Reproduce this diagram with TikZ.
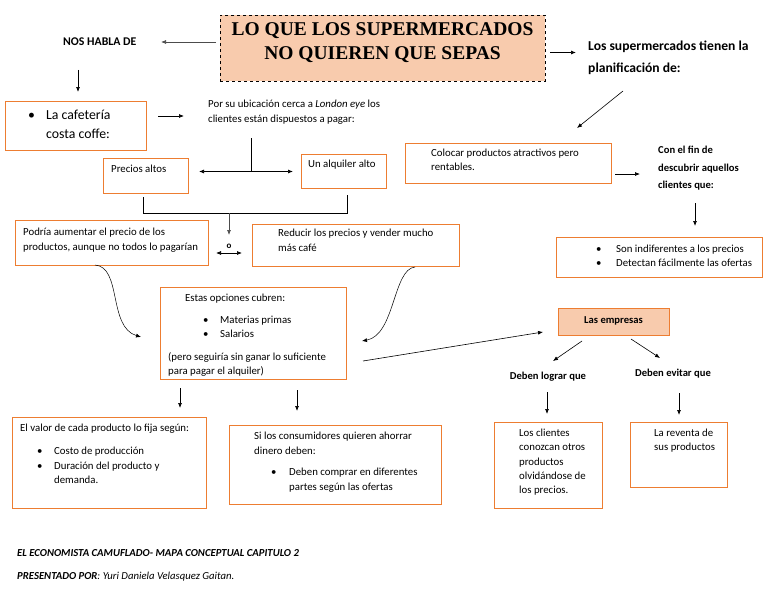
\documentclass[tikz,border=0pt]{standalone}
\usepackage{fontspec}
\setmainfont{Carlito}
\newfontfamily\titlefont{Liberation Serif}
\usetikzlibrary{arrows.meta}
\definecolor{boxorange}{HTML}{ED7D31}
\definecolor{peach}{HTML}{F8CBAD}
\newcommand\tl[1]{\begin{tabular}[t]{@{}l@{}}#1\end{tabular}}
\newcommand\fsm{\fontsize{10.8}{15}\selectfont}
\tikzset{
  obox/.style 2 args={draw=boxorange, line width=0.9pt, anchor=north west, inner sep=0pt, minimum width=#1, minimum height=#2},
  txt/.style={anchor=base west, inner sep=0pt, font=\fsm},
  arr/.style={-{Latex[length=5pt,width=4pt]}, line width=0.7pt},
  ln/.style={line width=0.8pt},
}
\begin{document}
\begin{tikzpicture}[x=1pt,y=-1pt]
\useasboundingbox (0,0) rectangle (768,594);
% ---------- boxes
\node[obox={325pt}{66pt}, draw=black, line width=0.8pt, dashed, fill=peach] (title) at (220,15) {};
\node[obox={141pt}{49pt}] (cafe) at (5,101) {};
\node[obox={85pt}{35pt}] (precios) at (103,158) {};
\node[obox={85pt}{34pt}] (alquiler) at (301,154) {};
\node[obox={206pt}{40pt}] (colocar) at (405,143) {};
\node[obox={193pt}{45pt}] (podria) at (15,220) {};
\node[obox={207pt}{42pt}] (reducir) at (252,224) {};
\node[obox={186pt}{92pt}] (estas) at (160,287) {};
\node[obox={206pt}{40pt}] (indif) at (556,237) {};
\node[obox={111pt}{27pt}, fill=peach] (empresas) at (558,308) {};
\node[obox={194pt}{91pt}] (valor) at (12,417) {};
\node[obox={212pt}{79pt}] (silos) at (229,425) {};
\node[obox={108pt}{86pt}] (losclientes) at (494,422) {};
\node[obox={97pt}{65pt}] (reventa) at (630,422) {};
% ---------- texts
\node[anchor=center, align=center, inner sep=0pt, font=\titlefont\bfseries\fontsize{19.5}{24}\selectfont] (titletxt) at (382.5,43) {LO QUE LOS SUPERMERCADOS\\NO QUIEREN QUE SEPAS};
\node[txt, font=\bfseries\fontsize{11.8}{13}\selectfont] (nos) at (63,46) {NOS HABLA DE};
\node[txt, font=\bfseries\fontsize{13.6}{21}\selectfont] (super) at (588,51) {\tl{Los supermercados tienen la\\planificación de:}};
\node[txt, font=\fontsize{13.8}{19}\selectfont] (cafebul) at (28,119) {\textbullet};
\node[txt, font=\fontsize{13.8}{19}\selectfont] (cafetxt) at (46,119) {\tl{La cafetería\\costa coffe:}};
\node[txt] (porsu) at (208,107.5) {\tl{Por su ubicación cerca a \textit{London eye} los\\clientes están dispuestos a pagar:}};
\node[txt] (preciostxt) at (111,172) {Precios altos};
\node[txt] (alquilertxt) at (308,167.5) {Un alquiler alto};
\node[txt, font=\fontsize{10.8}{14}\selectfont] (colocartxt) at (431,156.5) {\tl{Colocar productos atractivos pero\\rentables.}};
\node[txt, font=\bfseries\fontsize{10.6}{17.5}\selectfont] (confin) at (658,153.5) {\tl{Con el fin de\\descubrir aquellos\\clientes que:}};
\node[txt] (podriatxt) at (23,235.5) {\tl{Podría aumentar el precio de los\\productos, aunque no todos lo pagarían}};
\node[txt] (reducirtxt) at (278,236.5) {\tl{Reducir los precios y vender mucho\\más café}};
\node[anchor=center, inner sep=0pt, font=\bfseries\fontsize{9}{10}\selectfont] (o) at (229,246) {o};
\node[txt, font=\fontsize{10.8}{14}\selectfont] (indifb) at (596,252.5) {\tl{\textbullet\\\textbullet}};
\node[txt, font=\fontsize{10.8}{14}\selectfont] (indiftxt) at (616,252.5) {\tl{Son indiferentes a los precios\\Detectan fácilmente las ofertas}};
\node[txt] (estastxt) at (185,301.5) {Estas opciones cubren:};
\node[txt, font=\fontsize{10.8}{14}\selectfont] (estasb) at (203,323.5) {\tl{\textbullet\\\textbullet}};
\node[txt, font=\fontsize{10.8}{14}\selectfont] (estasl) at (220,323.5) {\tl{Materias primas\\Salarios}};
\node[txt, font=\fontsize{10.8}{14}\selectfont] (pero) at (168,360.5) {\tl{(pero seguiría sin ganar lo suficiente\\para pagar el alquiler)}};
\node[anchor=center, inner sep=0pt, font=\bfseries\fontsize{10.6}{12}\selectfont] (emptxt) at (613.5,321) {Las empresas};
\node[anchor=center, inner sep=0pt, font=\bfseries\fontsize{10.6}{12}\selectfont] (lograr) at (548,377) {Deben lograr que};
\node[anchor=center, inner sep=0pt, font=\bfseries\fontsize{10.6}{12}\selectfont] (evitar) at (673,374) {Deben evitar que};
\node[txt, font=\fontsize{10.8}{14.25}\selectfont] (lcltxt) at (519,436.5) {\tl{Los clientes\\conozcan otros\\productos\\olvidándose de\\los precios.}};
\node[txt, font=\fontsize{10.8}{14}\selectfont] (reventatxt) at (654,436) {\tl{La reventa de\\sus productos}};
\node[txt] (valortxt) at (20,431.5) {El valor de cada producto lo fija según:};
\node[txt, font=\fontsize{10.8}{14.5}\selectfont] (valorb) at (37,454.5) {\tl{\textbullet\\\textbullet}};
\node[txt, font=\fontsize{10.8}{14.5}\selectfont] (valorl) at (54,454.5) {\tl{Costo de producción\\Duración del producto y\\demanda.}};
\node[txt] (silostxt) at (254,439.5) {\tl{Si los consumidores quieren ahorrar\\dinero deben:}};
\node[txt] (silosb) at (271,475.5) {\textbullet};
\node[txt] (silosl) at (289,475.5) {\tl{Deben comprar en diferentes\\partes según las ofertas}};
\node[txt, font=\bfseries\itshape\fontsize{10.7}{12}\selectfont] (foot1) at (17,556.5) {EL ECONOMISTA CAMUFLADO- MAPA CONCEPTUAL CAPITULO 2};
\node[txt, font=\itshape\fontsize{10.7}{12}\selectfont] (foot2) at (17,579.5) {\textbf{PRESENTADO POR}: Yuri Daniela Velasquez Gaitan.};
% ---------- free connector ends
\coordinate (c1a) at (216,42);   \coordinate (c1b) at (161,42);
\coordinate (c2a) at (78,70);    \coordinate (c2b) at (78,92);
\coordinate (c3a) at (158,116);  \coordinate (c3b) at (184,116);
\coordinate (v1) at (251,138);   \coordinate (v2) at (251,171.5);
\coordinate (hl) at (199,171.5); \coordinate (hr) at (293,171.5);
\coordinate (bl) at (143,197);   \coordinate (blb) at (143,213);
\coordinate (br) at (347,195);   \coordinate (brb) at (347,213);
\coordinate (dm) at (229,213);   \coordinate (dmb) at (229,235);
\coordinate (ol) at (216,253);   \coordinate (or) at (242,253);
\coordinate (cl1) at (95,265);   \coordinate (cl2) at (141,337);
\coordinate (cr1) at (415,267);  \coordinate (cr2) at (362,341);
\coordinate (le1) at (363,361);  \coordinate (le2) at (543,332);
\coordinate (s1) at (550,52.5);  \coordinate (s2) at (576,52.5);
\coordinate (p1) at (623,91);    \coordinate (p2) at (577,128);
\coordinate (f1) at (615,174);   \coordinate (f2) at (640,174);
\coordinate (g1) at (695,203);   \coordinate (g2) at (695,226);
\coordinate (e1) at (582,341);   \coordinate (e2) at (553,361);
\coordinate (e3) at (631,339);   \coordinate (e4) at (660,358);
\coordinate (k1) at (547,392);   \coordinate (k2) at (547,414);
\coordinate (k3) at (679,393);   \coordinate (k4) at (679,415);
\coordinate (m1) at (180,388);   \coordinate (m2) at (180,408);
\coordinate (m3) at (297,390);   \coordinate (m4) at (297,411);
% ---------- connectors
\draw[arr, black!70] (c1a) -- (c1b);
\draw[arr] (c2a) -- (c2b);
\draw[arr] (c3a) -- (c3b);
\draw[ln] (v1) -- (v2);
\draw[arr] (v2) -- (hl);
\draw[arr] (v2) -- (hr);
\draw[ln] (bl) -- (blb) -- (brb) -- (br);
\draw[arr, black!70] (dm) -- (dmb);
\draw[{Latex[length=5pt,width=4pt]}-{Latex[length=5pt,width=4pt]}, line width=0.7pt] (ol) -- (or);
\draw[arr, line width=0.5pt] (cl1) .. controls (122,267) and (108,327) .. (cl2);
\draw[arr, line width=0.5pt] (cr1) .. controls (393,269) and (395,335) .. (cr2);
\draw[arr, line width=0.6pt] (le1) -- (le2);
\draw[arr] (s1) -- (s2);
\draw[arr, line width=0.6pt] (p1) -- (p2);
\draw[arr] (f1) -- (f2);
\draw[arr] (g1) -- (g2);
\draw[arr, line width=0.6pt] (e1) -- (e2);
\draw[arr, line width=0.6pt] (e3) -- (e4);
\draw[arr] (k1) -- (k2);
\draw[arr] (k3) -- (k4);
\draw[arr] (m1) -- (m2);
\draw[arr] (m3) -- (m4);
\end{tikzpicture}
\end{document}
